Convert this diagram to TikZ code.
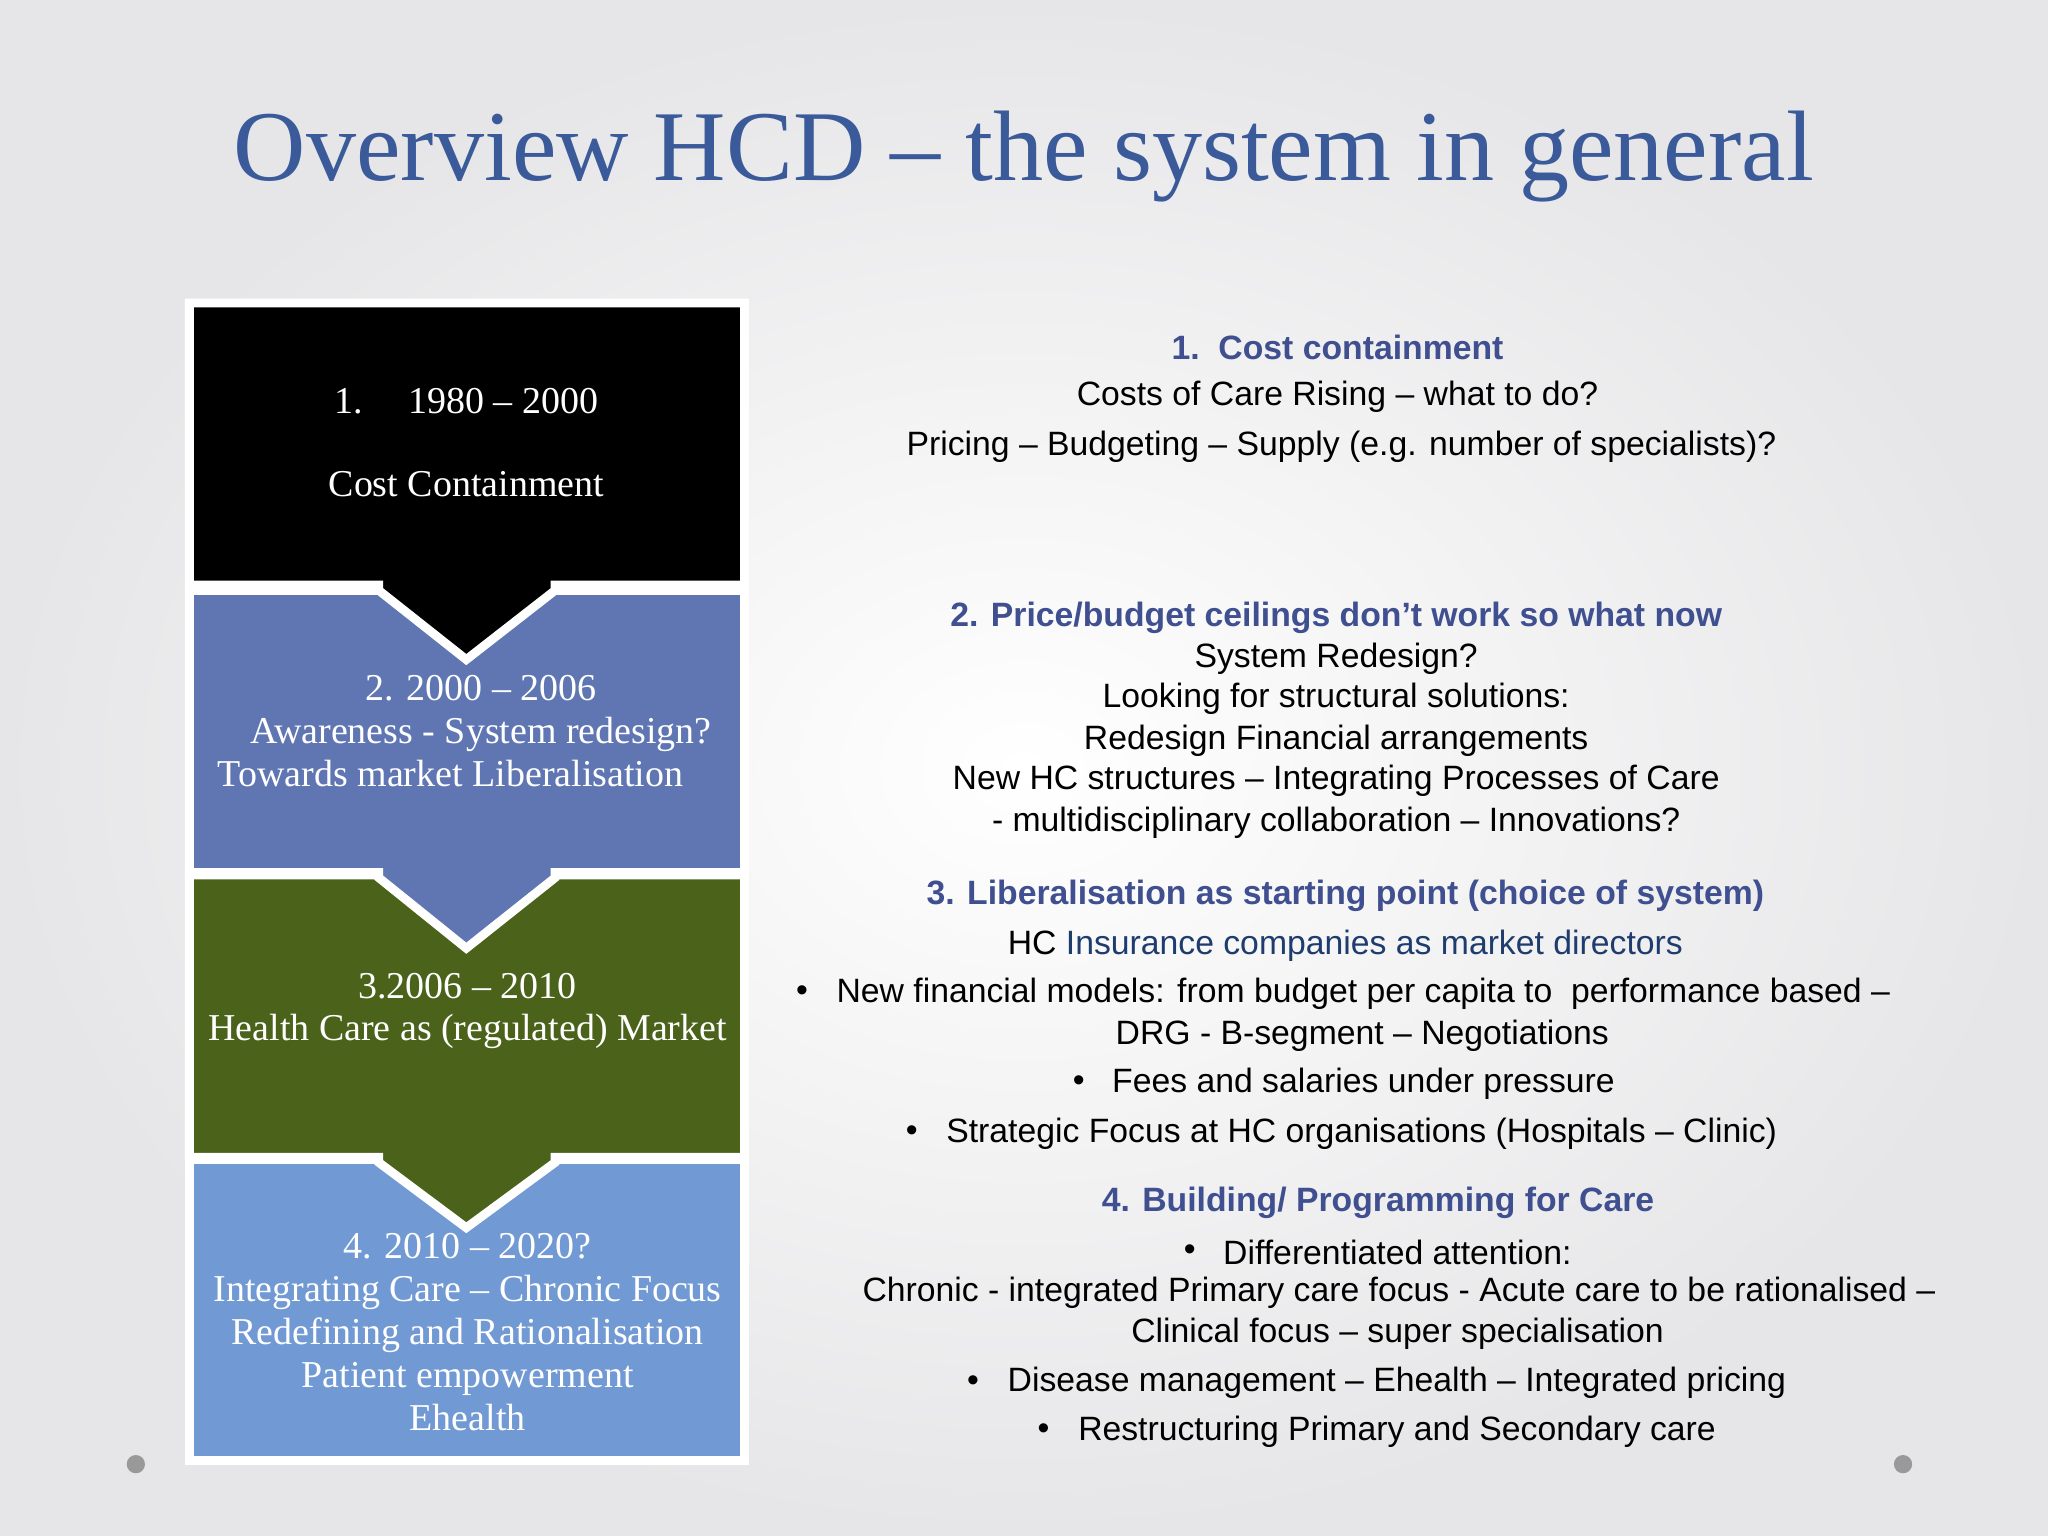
\documentclass[tikz,border=0pt]{standalone}
\usepackage{fontspec}
\setmainfont{Liberation Serif}
\newfontfamily\arial{Liberation Sans}
\definecolor{hblue}{HTML}{3F4F8F}
\definecolor{dblue}{HTML}{1F3C6E}
\definecolor{tblue}{HTML}{3A5A9A}
\definecolor{bxblue}{HTML}{5F76B3}
\definecolor{bxgreen}{HTML}{4A6219}
\definecolor{bxlight}{HTML}{7199D3}
\definecolor{bgc}{HTML}{E6E6E8}
\begin{document}
\begin{tikzpicture}[x=0.013061cm,y=-0.013061cm,
  rt/.style={font=\arial\fontsize{9.6}{11}\selectfont,inner sep=0pt,text=black},
  hd/.style={rt,font=\arial\bfseries\fontsize{9.6}{11}\selectfont,text=hblue},
  bx/.style={draw=white,line width=2.5pt,line join=miter},
  bt/.style={text=white,align=center,font=\fontsize{10.8}{12.2}\selectfont,inner sep=0pt}]
\useasboundingbox (0,0) rectangle (1568,1176);
\shade[inner color=white,outer color=bgc] (0,0) rectangle (1568,1176);
\node[font=\fontsize{28.5}{33}\selectfont,text=tblue,inner sep=0pt] (title) at (784,120) {Overview HCD – the system in general};
% boxes drawn bottom first
\fill[bx,fill=bxlight] (145,888) -- (290,888) -- (290,880) -- (425,880) -- (425,888) -- (570,888) -- (570,1118) -- (145,1118) -- cycle;
\draw[bx,fill=bxgreen] (145,670) -- (570,670) -- (570,886) -- (425,886) -- (425,890) -- (357,940) -- (290,890) -- (290,886) -- (145,886) -- cycle;
\draw[bx,fill=bxblue] (145,452) -- (570,452) -- (570,668) -- (425,668) -- (425,672) -- (357,726) -- (290,672) -- (290,668) -- (145,668) -- cycle;
\draw[bx,fill=black] (145,232) -- (570,232) -- (570,448) -- (425,448) -- (425,452) -- (357,505) -- (290,452) -- (290,448) -- (145,448) -- cycle;
\node[bt] (b1) at (357,339) {1.\hspace{1.2em}1980 – 2000\\[1.05em]Cost Containment};
\node[bt] (b2) at (345,560) {\hspace{1.6em}2. 2000 – 2006\\\hspace{1.6em}Awareness - System redesign?\\Towards market Liberalisation};
\node[bt] (b3) at (358,774) {3.2006 – 2010\\Health Care as (regulated) Market};
\node[bt] (b4) at (358,1020) {4. 2010 – 2020?\\Integrating Care – Chronic Focus\\Redefining and Rationalisation\\Patient empowerment\\Ehealth};
\fill[gray!80] (104,1121) circle (7);
\fill[gray!80] (1457,1121) circle (7);
% right text
\node[hd] (h1) at (1024,266) {1.\ \ Cost containment};
\node[rt] (l1) at (1024,304) {Costs of Care Rising – what to do?};
\node[rt] (l2) at (1027,342) {Pricing – Budgeting – Supply (e.g. number of specialists)?};
\node[hd] (h2) at (1023,473) {2. Price/budget ceilings don’t work so what now};
\node[rt] (l3) at (1023,504) {System Redesign?};
\node[rt] (l4) at (1023,535) {Looking for structural solutions:};
\node[rt] (l5) at (1023,567) {Redesign Financial arrangements};
\node[rt] (l6) at (1023,598) {New HC structures – Integrating Processes of Care};
\node[rt] (l7) at (1023,630) {- multidisciplinary collaboration – Innovations?};
\node[hd] (h3) at (1030,686) {3. Liberalisation as starting point (choice of system)};
\node[rt] (l8) at (1030,724) {HC \textcolor{dblue}{Insurance companies as market directors}};
\node[rt] (p1) at (614,761) {•};
\node[rt,anchor=west] (l9) at (640,761) {New financial models: from budget per capita to\ \ performance based –};
\node[rt] (l10) at (1043,793) {DRG - B-segment – Negotiations};
\node[rt] (p2) at (826,830) {•};
\node[rt,anchor=west] (l11) at (851,830) {Fees and salaries under pressure};
\node[rt] (p3) at (698,868) {•};
\node[rt,anchor=west] (l12) at (724,868) {Strategic Focus at HC organisations (Hospitals – Clinic)};
\node[hd] (h4) at (1055,921) {4. Building/ Programming for Care};
\node[rt] (p4) at (911,959) {•};
\node[rt,anchor=west] (l13) at (936,959) {Differentiated attention:};
\node[rt] (l14) at (1071,990) {Chronic - integrated Primary care focus - Acute care to be rationalised –};
\node[rt] (l15) at (1070,1021) {Clinical focus – super specialisation};
\node[rt] (p5) at (745,1059) {•};
\node[rt,anchor=west] (l16) at (771,1059) {Disease management – Ehealth – Integrated pricing};
\node[rt] (p6) at (799,1096) {•};
\node[rt,anchor=west] (l17) at (825,1096) {Restructuring Primary and Secondary care};
\end{tikzpicture}
\end{document}
